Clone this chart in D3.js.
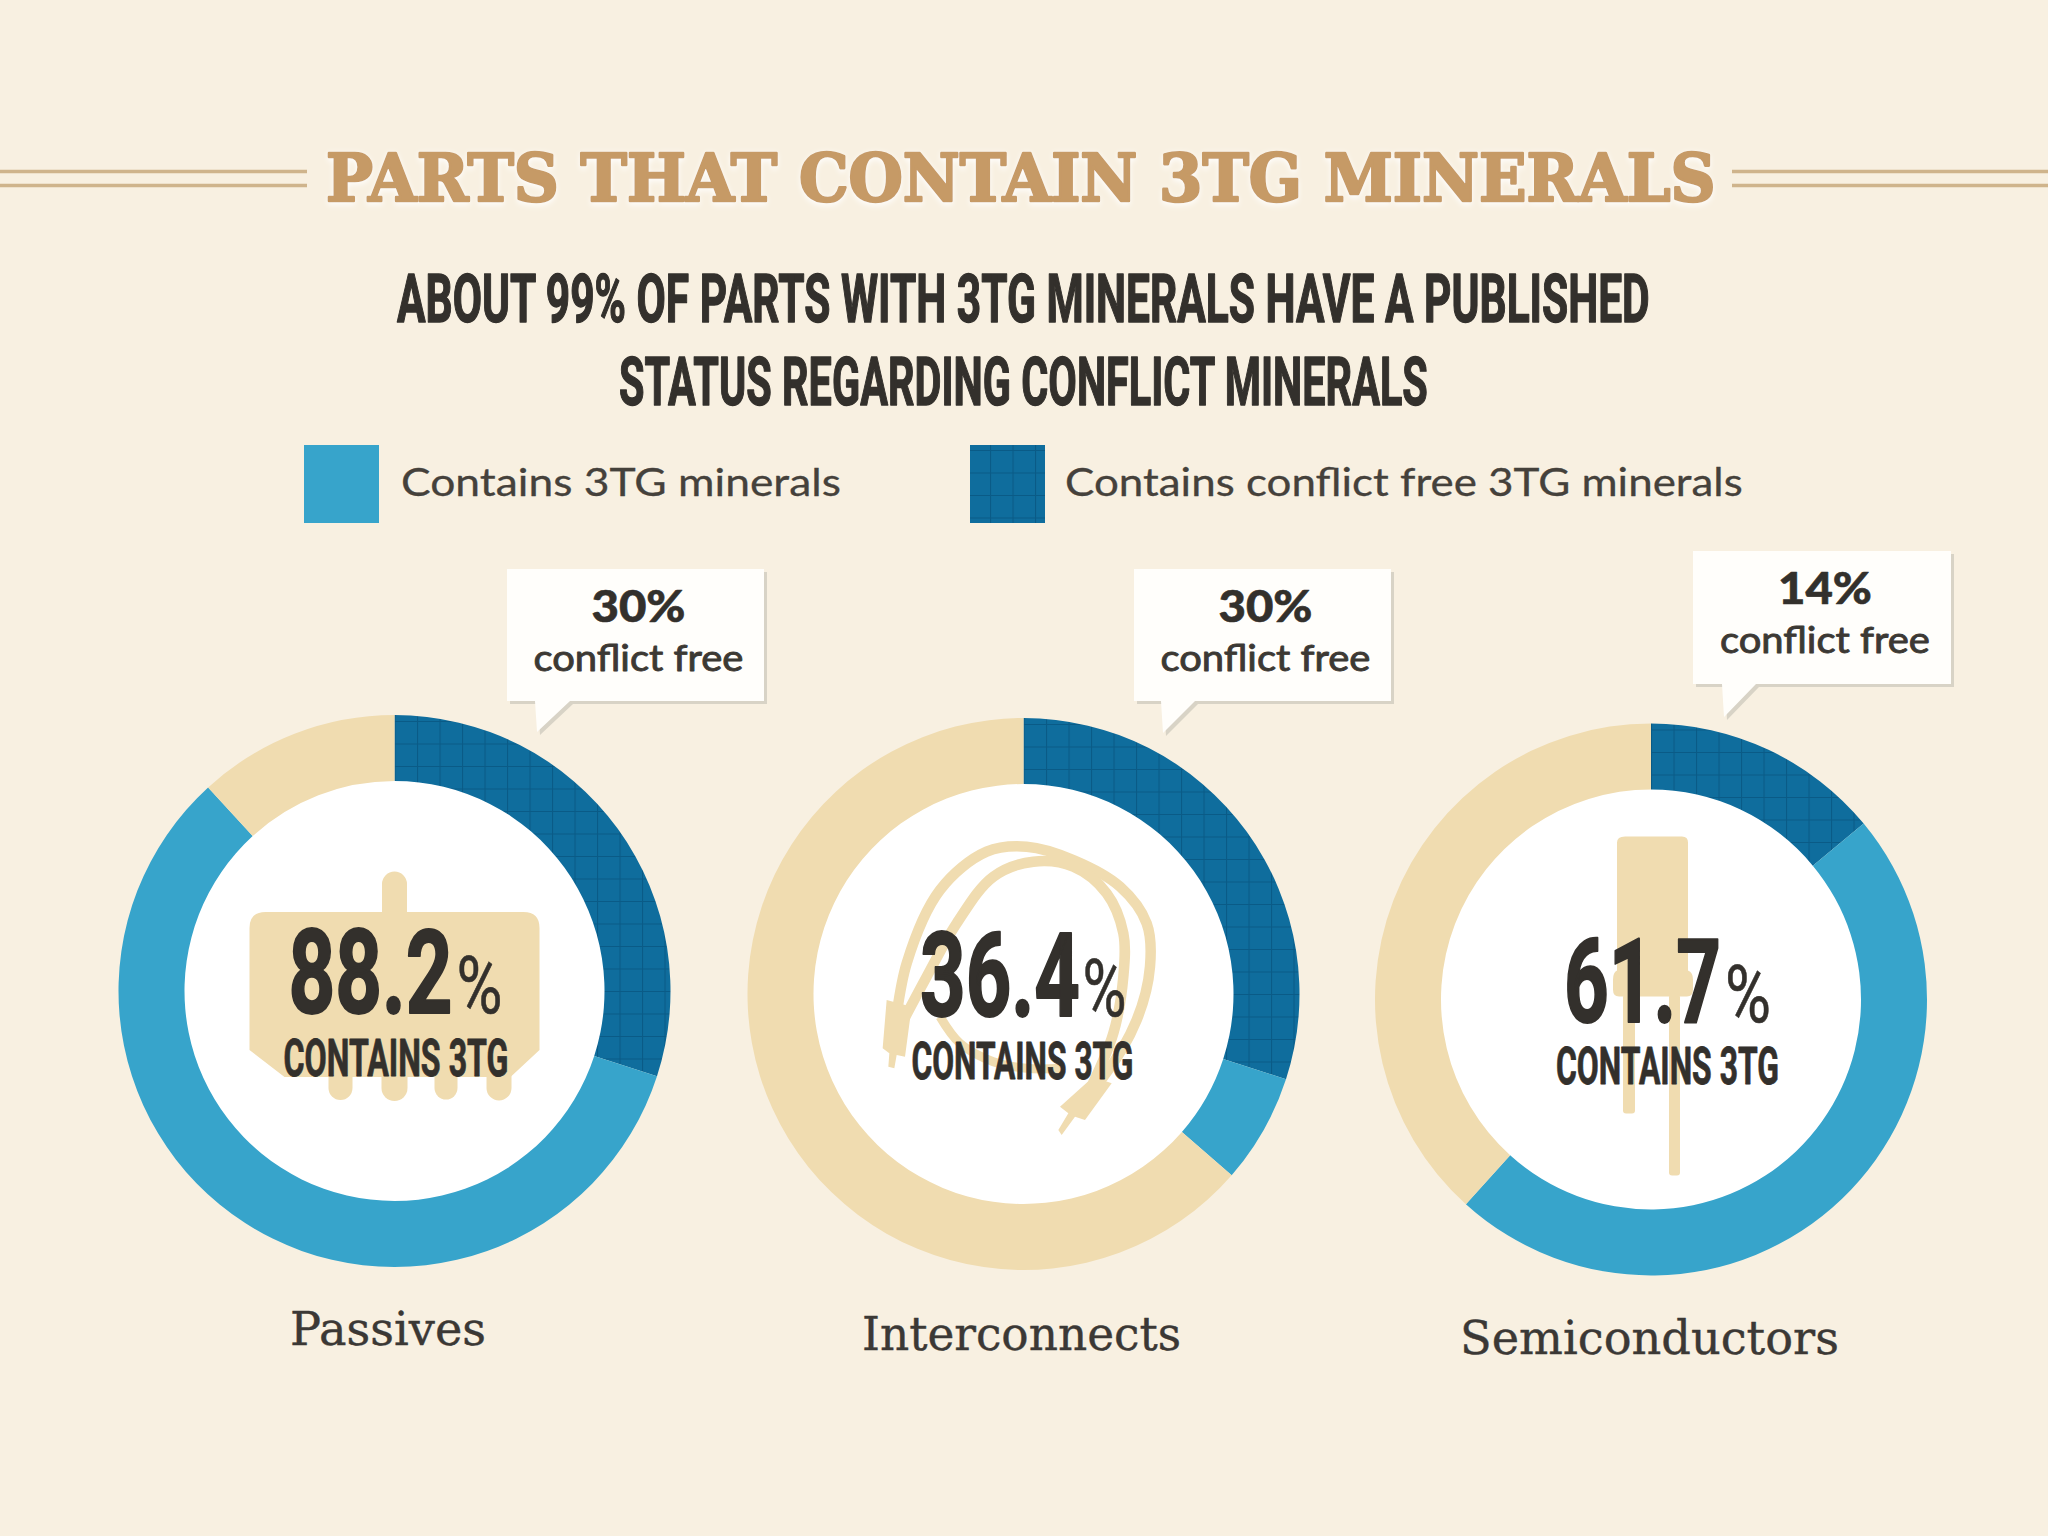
<!DOCTYPE html>
<html><head><meta charset="utf-8">
<script src="https://cdn.jsdelivr.net/npm/d3@7/dist/d3.min.js"></script>
<style>html,body{margin:0;padding:0;background:#f8f0e1;}svg{display:block;}</style>
</head><body><div id="chart"></div>
<script>
// ---------- data ----------
const categories = ["Passives", "Interconnects", "Semiconductors"];
const containsPct = [88.2, 36.4, 61.7];
const conflictFreePct = [30, 30, 14];
const titleText = "PARTS THAT CONTAIN 3TG MINERALS";
const subtitleLines = ["ABOUT 99% OF PARTS WITH 3TG MINERALS HAVE A PUBLISHED", "STATUS REGARDING CONFLICT MINERALS"];
const legendLabels = ["Contains 3TG minerals", "Contains conflict free 3TG minerals"];

// ---------- layout ----------
const W = 2048, H = 1536;
const centers = [[394.5, 991], [1023.5, 994], [1651, 999.5]];
const rOuter = 276, rInner = 210;
const numberSpan = [[-107, 59], [-104.5, 57.5], [-88, 71]];
const percentSpan = [[62, 108], [59, 103], [74, 120]];
const containsSpan = [[-111, 114], [-112, 110], [-95, 128]];
const calloutBox = [[507, 569, 764, 701], [1134, 569, 1391, 701], [1693, 551, 1951, 684]];
const calloutTail = [[535, 570, 537, 732], [1161, 1195, 1163, 733], [1722, 1756, 1724, 717]];
const categorySpan = [[290, 486, 1345], [862, 1181, 1350], [1460, 1839, 1354]];
const COL = {bg:"#f8f0e1", light:"#37a4cb", dark:"#0f6d9d", grid:"#0a5b87", tan:"#f0dcb0", ink:"#33302c", title:"#c69a66", rule:"#cfb48c"};
const NARROW = "'Liberation Sans Narrow','Roboto','Liberation Sans',sans-serif";

const svg = d3.select("#chart").append("svg").attr("width", W).attr("height", H).attr("viewBox", `0 0 ${W} ${H}`);
svg.append("rect").attr("width", W).attr("height", H).attr("fill", COL.bg);

const defs = svg.append("defs");
const pat = defs.append("pattern").attr("id","grid").attr("patternUnits","userSpaceOnUse").attr("width",22.5).attr("height",22.5);
pat.append("rect").attr("width",22.5).attr("height",22.5).attr("fill",COL.dark);
pat.append("path").attr("d","M0 0H22.5M0 0V22.5").attr("stroke",COL.grid).attr("stroke-width",2.2).attr("fill","none");
const glow = defs.append("filter").attr("id","glow").attr("x","-5%").attr("y","-30%").attr("width","110%").attr("height","160%");
glow.append("feDropShadow").attr("dx",0).attr("dy",2).attr("stdDeviation",3).attr("flood-color","#ffffff").attr("flood-opacity",1);

// Places a text so that its ink runs from x0 to x1, by scaling it horizontally.
function fit(g, str, x0, x1, base, size, family, weight, fill, strokeW) {
  const t = g.append("text").text(str)
    .attr("font-family", family).attr("font-size", size).attr("font-weight", weight).attr("fill", fill);
  const natural = t.node().getComputedTextLength();
  t.attr("transform", `translate(${x0},${base}) scale(${(x1 - x0) / natural},1)`);
  if (strokeW) t.attr("stroke", fill).attr("stroke-width", strokeW).attr("stroke-linejoin", "round");
  return t;
}

// ---------- title ----------
[[0, 307], [1732, 2048]].forEach(([a, b]) => {
  [171.5, 185.5].forEach(y => svg.append("line").attr("x1",a).attr("x2",b).attr("y1",y).attr("y2",y)
    .attr("stroke",COL.rule).attr("stroke-width",3.5));
});
fit(svg, titleText, 326, 1716, 200.5, 66, "'DejaVu Serif',serif", 700, COL.title, 2.6).attr("filter","url(#glow)");

[[397, 1650, 322], [619, 1428, 405]].forEach((s, i) => {
  fit(svg, subtitleLines[i], s[0], s[1], s[2], 67, NARROW, 700, COL.ink, 1.4);
});

// ---------- legend ----------
const legendFills = [COL.light, "url(#grid)"];
[[304, 379, 401, 841], [970, 1045, 1065, 1743]].forEach((l, i) => {
  svg.append("rect").attr("x",l[0]).attr("y",445).attr("width",l[1]-l[0]).attr("height",78).attr("fill",legendFills[i]);
  fit(svg, legendLabels[i], l[2], l[3], 495.5, 39, "Lato,sans-serif", 400, "#45413b", 0.3);
});

// ---------- icons (drawn behind the centre labels) ----------
function iconPassive(g) {
  g.append("path").attr("fill",COL.tan)
   .attr("d","M-129 -79 Q-145 -79 -145 -63 V59 L-110 86 H116 L145 59 V-63 Q145 -79 129 -79 H12.5 V-107 A12.5 12.5 0 0 0 -12.5 -107 V-79 Z");
  [[-66,-42],[-13,13],[40,63],[92,117]].forEach(p => {
    g.append("path").attr("fill",COL.tan)
     .attr("d",`M${p[0]} 80 V97 A${(p[1]-p[0])/2} ${(p[1]-p[0])/2} 0 0 0 ${p[1]} 97 V80 Z`);
  });
}
function iconCable(g) {
  const line = d3.line().curve(d3.curveCatmullRom.alpha(0.5));
  const z = p => [p[0]/3 + 860 - 1023.5, p[1]/3 + 820 - 994];
  const outer = [[100,660],[140,430],[240,210],[380,95],[500,80],[640,120],[780,200],[860,310],[870,440],[830,600],[730,770],[640,860]].map(z);
  const inner = [[110,640],[200,470],[290,310],[400,170],[520,125],[640,140],[740,220],[790,340],[790,470],[760,640],[680,830]].map(z);
  const under = [[240,590],[300,670],[400,725],[500,745],[600,745]].map(z);
  g.append("path").attr("d",line(outer)).attr("fill","none").attr("stroke",COL.tan).attr("stroke-width",10.5);
  g.append("path").attr("d",line(inner)).attr("fill","none").attr("stroke",COL.tan).attr("stroke-width",10.5);
  g.append("path").attr("d",line(under)).attr("fill","none").attr("stroke",COL.tan).attr("stroke-width",9);
  [[[80,540],[155,560],[135,710],[110,705],[103,745],[85,740],[88,700],[68,685]],
   [[600,860],[700,770],[755,790],[675,900],[645,890],[605,945],[595,930],[625,880]]].forEach(poly => {
    g.append("polygon").attr("points",poly.map(z).map(p=>p.join(",")).join(" ")).attr("fill",COL.tan);
  });
}
function iconDiode(g) {
  g.append("path").attr("fill",COL.tan)
   .attr("d","M-26 -163 H31 Q37 -163 37 -157 V-29 Q42 -27 42 -20 V-10 Q42 -3 36 -3 H-32 Q-38 -3 -38 -10 V-20 Q-38 -27 -34 -29 V-157 Q-34 -163 -26 -163 Z");
  g.append("rect").attr("x",-28).attr("y",-5).attr("width",12).attr("height",119).attr("rx",3).attr("fill",COL.tan);
  g.append("rect").attr("x",18).attr("y",-5).attr("width",11).attr("height",181).attr("rx",3).attr("fill",COL.tan);
}
const icons = [iconPassive, iconCable, iconDiode];

// ---------- donuts ----------
const pie = d3.pie().sort(null).value(d => d);
const arc = d3.arc().innerRadius(rInner).outerRadius(rOuter);
const fills = ["url(#grid)", COL.light, COL.tan];

categories.forEach((cat, i) => {
  const [cx, cy] = centers[i];
  const g = svg.append("g").attr("transform", `translate(${cx},${cy})`);
  g.append("circle").attr("r", rInner + 1).attr("fill", "#ffffff");
  const parts = [conflictFreePct[i], containsPct[i] - conflictFreePct[i], 100 - containsPct[i]];
  g.selectAll("path.slice").data(pie(parts)).join("path").attr("class","slice")
    .attr("d", arc).attr("fill", (d, k) => fills[k]);
  icons[i](g);

  const pct = containsPct[i].toFixed(1);
  const sizeBase = 22;
  fit(g, pct, numberSpan[i][0] + 1, numberSpan[i][1] - 1, sizeBase, 116, "Roboto,sans-serif", 700, COL.ink, 2);
  fit(g, "%", percentSpan[i][0], percentSpan[i][1], sizeBase, 79, "Roboto,sans-serif", 400, COL.ink, 0.6);
  fit(g, "CONTAINS 3TG", containsSpan[i][0], containsSpan[i][1], 84.5, 51, "Roboto,sans-serif", 700, COL.ink, 0.8);

  // callout
  const [bx0, by0, bx1, by1] = calloutBox[i];
  const [tx0, tx1, tipx, tipy] = calloutTail[i];
  const pts = [[bx0,by0],[bx1,by0],[bx1,by1],[tx1,by1],[tipx,tipy],[tx0,by1],[bx0,by1]].map(p=>p.join(",")).join(" ");
  const c = svg.append("g");
  c.append("polygon").attr("points",pts).attr("fill","#d8d3c6").attr("transform","translate(3,3)");
  c.append("polygon").attr("points",pts).attr("fill","#fffefb");
  const mid = (bx0 + bx1) / 2 + 3;
  const pctText = conflictFreePct[i] + "%";
  fit(c, pctText, mid - 47, mid + 47, by0 + 53, 44, "Lato,sans-serif", 900, COL.ink, 0.6);
  fit(c, "conflict free", mid - 105, mid + 105, by0 + 101.5, 36, "Lato,sans-serif", 400, "#3c3934", 0.9);

  // category label
  const cs = categorySpan[i];
  fit(svg, cat, cs[0], cs[1], cs[2], 46, "'DejaVu Serif',serif", 400, "#3b3835", 0.4);
});
</script></body></html>
